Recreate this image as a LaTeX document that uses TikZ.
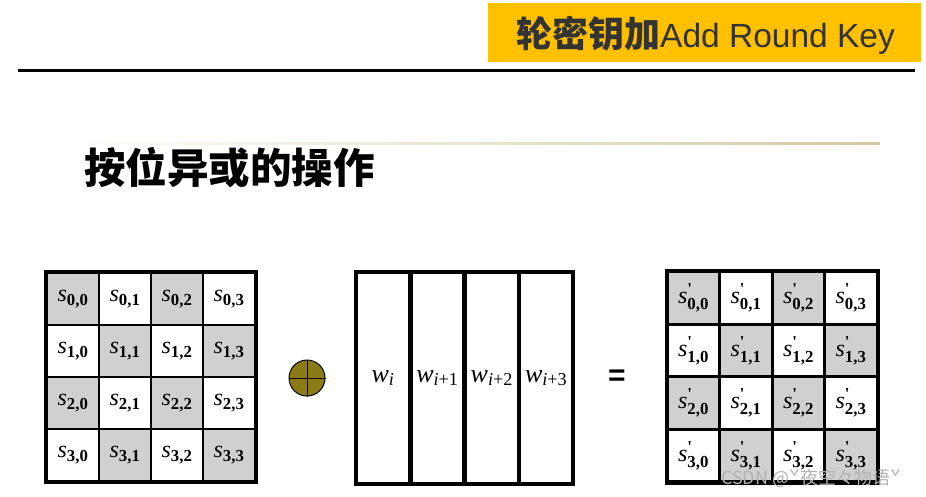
\documentclass[tikz,border=0pt]{standalone}
\usepackage{amsmath}
\usepackage{fontspec}
\setmainfont{Liberation Serif}
\setsansfont{Liberation Sans}
\newfontfamily\cjk{Noto Sans CJK SC}
\usepackage{xcolor}
\usepackage{tikz}
\usetikzlibrary{positioning, calc}
\definecolor{bannergold}{RGB}{255,192,0}
\definecolor{bannertext}{RGB}{51,51,51}
\definecolor{cellgray}{RGB}{208,208,208}
\definecolor{xorolive}{RGB}{140,122,22}
\definecolor{ruletan}{RGB}{212,202,160}
\tikzstyle{cell} = [rectangle, draw=black, line width=2.4pt, minimum size=52pt, inner sep=0pt, text centered, font=\fontsize{24}{24}\selectfont]
\tikzstyle{graycell} = [cell, fill=cellgray]
\tikzstyle{whitecell} = [cell, fill=white]
\tikzstyle{wcol} = [rectangle, draw=black, line width=2.4pt, minimum width=52pt, minimum height=210pt, inner sep=0pt, fill=white, font=\fontsize{26}{26}\selectfont]
\tikzstyle{outline} = [draw=black, line width=3.6pt]
\newcommand{\sname}[1]{$\textit{s}_{\textbf{#1}}$}
\newcommand{\spname}[1]{$\textit{s}^{\textbf{\textquotesingle}}_{\textbf{#1}}$}
\newcommand{\wname}[1]{$\textit{w}_{\textit{i}\text{#1}}$}

\begin{document}
\begin{tikzpicture}[x=1pt, y=-1pt]
\useasboundingbox (0,0) rectangle (926,496);

% ===== TITLE BAR =====
\fill[bannergold] (488,3) rectangle (921,62);
\node (title) [anchor=west, text=bannertext, inner sep=0pt] at (516,35) {{\cjk\bfseries\fontsize{36}{36}\selectfont 轮密钥加}{\sffamily\fontsize{33.5}{33.5}\selectfont Add Round Key}};
\draw[line width=3pt] (18,70) -- (915,70);

% ===== HEADING =====
\shade[left color=white, right color=ruletan] (45,142) rectangle (880,144.5);
\node (heading) [anchor=west, inner sep=0pt] at (84,168) {\cjk\bfseries\fontsize{41.5}{41.5}\selectfont 按位异或的操作};

% ===== STATE MATRIX (LEFT) =====
\foreach \i in {0,...,3}{
  \foreach \j in {0,...,3}{
    \pgfmathparse{int(mod(\i+\j,2))}
    \ifnum\pgfmathresult=0 \def\cellstyle{graycell}\else\def\cellstyle{whitecell}\fi
    \node (s-\i-\j) [\cellstyle] at ({73+52*\j},{299+52*\i}) {\sname{\i,\j}};
  }
}
\draw[outline] (s-0-0.north west) rectangle (s-3-3.south east);

% ===== XOR =====
\node (xor) [circle, draw=black, line width=1pt, fill=xorolive, minimum size=36pt, inner sep=0pt] at (307,378) {};
\draw[line width=1pt] (xor.north) -- (xor.south);
\draw[line width=1pt] (xor.west) -- (xor.east);

% ===== ROUND KEY WORDS =====
\node (w-0) [wcol] at (383,378) {\wname{}};
\node (w-1) [wcol, right=0pt of w-0] {\wname{+1}};
\node (w-2) [wcol, right=0pt of w-1] {\wname{+2}};
\node (w-3) [wcol, right=0pt of w-2] {\wname{+3}};
\draw[outline] (w-0.north west) rectangle (w-3.south east);

% ===== EQUALS =====
\node (eq) [font=\sffamily\bfseries\fontsize{30}{30}\selectfont] at (617,378) {=};

% ===== NEW STATE MATRIX (RIGHT) =====
\foreach \i in {0,...,3}{
  \foreach \j in {0,...,3}{
    \pgfmathparse{int(mod(\i+\j,2))}
    \ifnum\pgfmathresult=0 \def\cellstyle{graycell}\else\def\cellstyle{whitecell}\fi
    \node (sp-\i-\j) [\cellstyle] at ({693.5+52.5*\j},{298+52.5*\i}) {\spname{\i,\j}};
  }
}
\draw[outline] (sp-0-0.north west) rectangle (sp-3-3.south east);

% watermark
\node (mark) [anchor=west, inner sep=0pt, text=gray!60] at (721,478) {\cjk\fontsize{18}{18}\selectfont CSDN @ˇ夜空々物语ˇ};

\end{tikzpicture}
\end{document}
